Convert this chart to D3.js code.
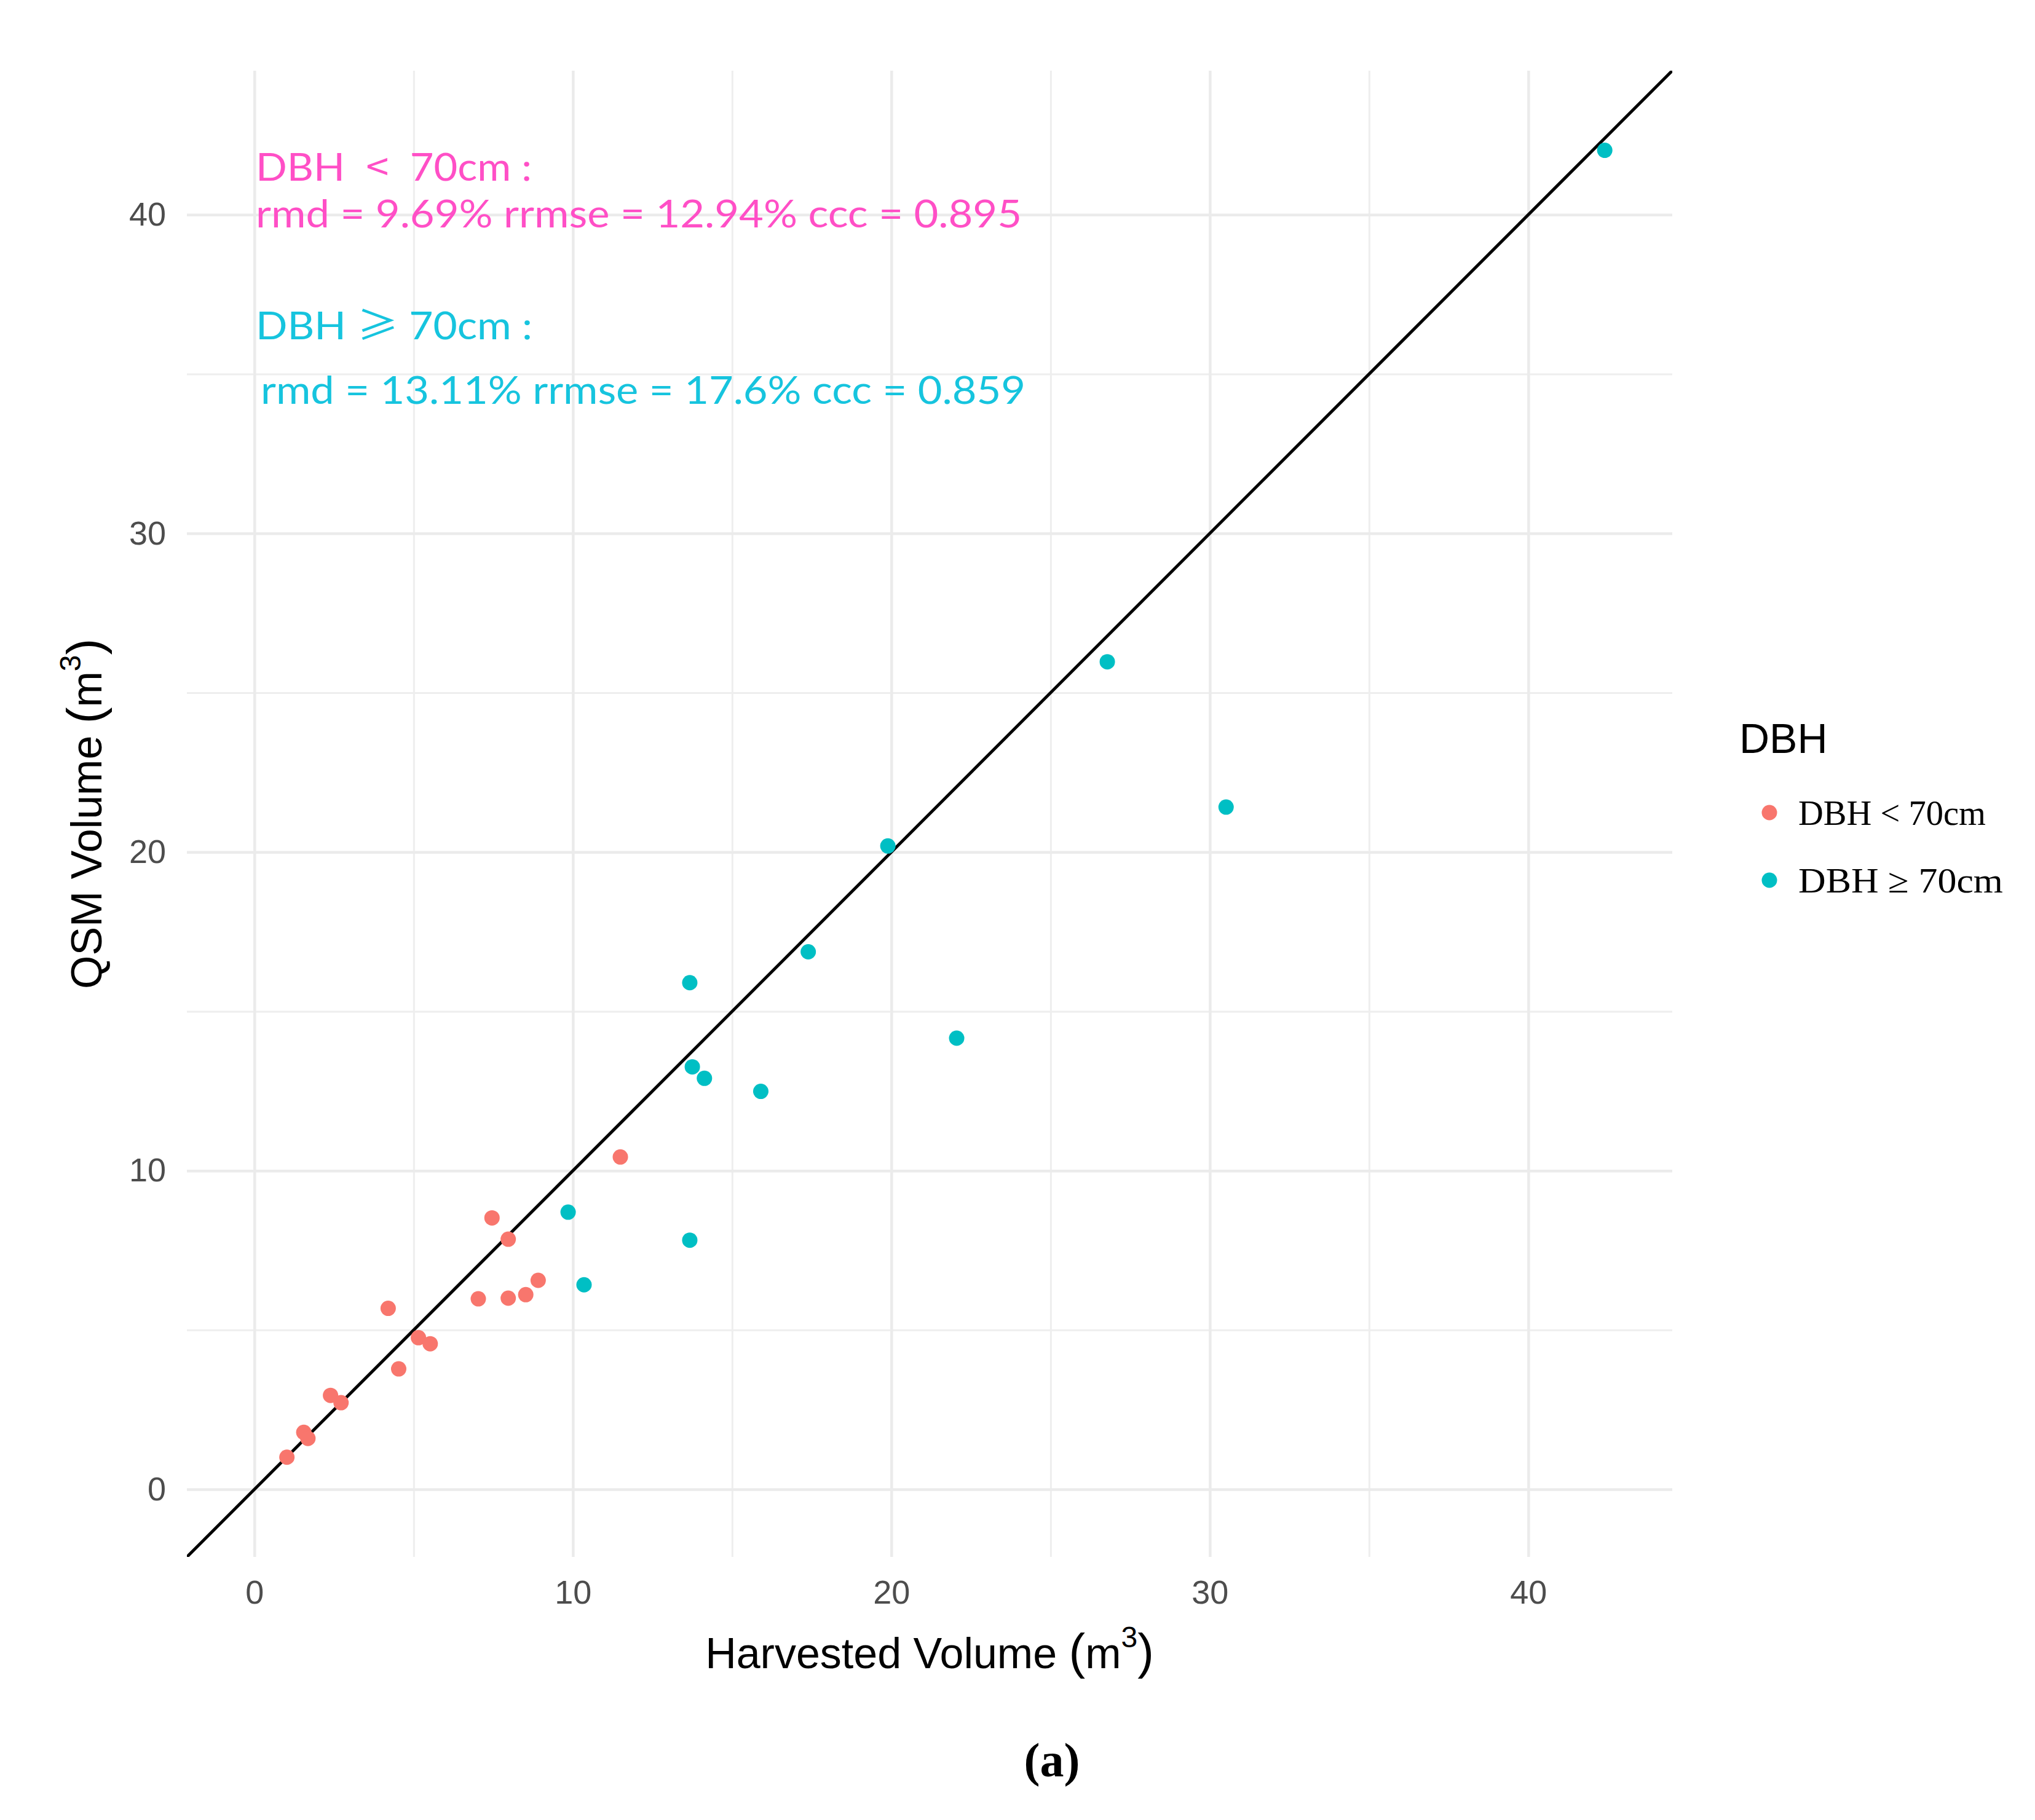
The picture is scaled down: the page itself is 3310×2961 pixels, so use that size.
<!DOCTYPE html>
<html>
<head>
<meta charset="utf-8">
<script src="https://cdn.jsdelivr.net/npm/d3@7"></script>
<style>
  html, body { margin: 0; padding: 0; background: #fff; }
</style>
</head>
<body>
<div id="chart"></div>
<script>
// values (m^3)
var smallHarvested = [1.02, 1.55, 1.68, 2.39, 2.72, 4.20, 4.53, 5.15, 5.52, 7.03, 7.97, 8.52, 8.91, 7.97, 7.46, 11.49];
var smallQsm       = [1.01, 1.79, 1.60, 2.95, 2.72, 5.68, 3.78, 4.76, 4.57, 5.98, 6.00, 6.11, 6.56, 7.85, 8.52, 10.43];
var largeHarvested = [9.85, 10.35, 13.67, 13.67, 13.75, 14.13, 15.90, 17.39, 22.05, 19.89, 26.78, 30.51, 42.40];
var largeQsm       = [8.70, 6.42, 7.82, 15.90, 13.26, 12.90, 12.49, 16.87, 14.16, 20.19, 25.97, 21.41, 42.02];

var groups = ["DBH < 70cm", "DBH \u2265 70cm"];
var groupColors = ["#F8766D", "#00BFC4"];
var majorTicks = [0, 10, 20, 30, 40];
var minorTicks = [5, 15, 25, 35];
var statLines = [
  ["DBH  ", "<", "  70cm :"],
  ["rmd = 9.69% rrmse = 12.94% ccc = 0.895"],
  ["DBH ", "\u2265", " 70cm :"],
  ["rmd = 13.11% rrmse = 17.6% ccc = 0.859"]
];

var W = 3310, H = 2961;
var panel = {left: 304, right: 2720, top: 115, bottom: 2533};
var domain = [-2.12, 44.52];

var svg = d3.select("#chart").append("svg")
  .attr("width", W).attr("height", H)
  .style("font-family", "'Liberation Sans', Arial, sans-serif");

svg.append("rect").attr("width", W).attr("height", H).attr("fill", "#fff");

var x = d3.scaleLinear().domain(domain).range([panel.left, panel.right]);
var y = d3.scaleLinear().domain(domain).range([panel.bottom, panel.top]);
var pw = panel.right - panel.left, ph = panel.bottom - panel.top;

// grid lines, minor first then major
function grid(ticks, width, color) {
  svg.append("g")
    .attr("transform", "translate(0," + panel.bottom + ")")
    .call(d3.axisBottom(x).tickValues(ticks).tickSize(-ph).tickFormat(""))
    .call(function(g) {
      g.select(".domain").remove();
      g.selectAll("line").attr("stroke", color).attr("stroke-width", width);
    });
  svg.append("g")
    .attr("transform", "translate(" + panel.left + ",0)")
    .call(d3.axisLeft(y).tickValues(ticks).tickSize(-pw).tickFormat(""))
    .call(function(g) {
      g.select(".domain").remove();
      g.selectAll("line").attr("stroke", color).attr("stroke-width", width);
    });
}
grid(minorTicks, 3, "#EEEEEE");
grid(majorTicks, 4.5, "#EBEBEB");

// tick labels
svg.append("g")
  .attr("transform", "translate(0," + panel.bottom + ")")
  .call(d3.axisBottom(x).tickValues(majorTicks).tickSize(0).tickPadding(38).tickFormat(d3.format("d")))
  .call(function(g) {
    g.select(".domain").remove();
    g.selectAll("text").attr("font-size", 54).attr("fill", "#4D4D4D")
      .attr("font-family", "'Liberation Sans', Arial, sans-serif");
  });
svg.append("g")
  .attr("transform", "translate(" + panel.left + ",0)")
  .call(d3.axisLeft(y).tickValues(majorTicks).tickSize(0).tickPadding(34).tickFormat(d3.format("d")))
  .call(function(g) {
    g.select(".domain").remove();
    g.selectAll("text").attr("font-size", 54).attr("fill", "#4D4D4D")
      .attr("font-family", "'Liberation Sans', Arial, sans-serif");
  });

// clip for the 1:1 line
svg.append("clipPath").attr("id", "panelClip")
  .append("rect").attr("x", panel.left).attr("y", panel.top).attr("width", pw).attr("height", ph);

svg.append("line")
  .attr("clip-path", "url(#panelClip)")
  .attr("x1", x(domain[0])).attr("y1", y(domain[0]))
  .attr("x2", x(domain[1])).attr("y2", y(domain[1]))
  .attr("stroke", "#000").attr("stroke-width", 5);

// points
var pts = [];
smallHarvested.forEach(function(v, i) { pts.push({h: v, q: smallQsm[i], g: 0}); });
largeHarvested.forEach(function(v, i) { pts.push({h: v, q: largeQsm[i], g: 1}); });

svg.append("g").selectAll("circle")
  .data(pts)
  .enter().append("circle")
  .attr("cx", function(d) { return x(d.h); })
  .attr("cy", function(d) { return y(d.q); })
  .attr("r", 12.5)
  .attr("fill", function(d) { return groupColors[d.g]; });

// stats annotation
var statPos = [
  {x: 416, y: 294, len: 449, color: "#FF4FC6"},
  {x: 416, y: 370, len: 1246, color: "#FF4FC6"},
  {x: 416, y: 552, len: 450, color: "#16C4DE"},
  {x: 424, y: 657, len: 1244, color: "#16C4DE"}
];
var stat = svg.append("g").selectAll("text")
  .data(statLines)
  .enter().append("text")
  .attr("x", function(d, i) { return statPos[i].x; })
  .attr("y", function(d, i) { return statPos[i].y; })
  .attr("textLength", function(d, i) { return statPos[i].len; })
  .attr("lengthAdjust", "spacingAndGlyphs")
  .attr("fill", function(d, i) { return statPos[i].color; })
  .attr("font-size", 62)
  .attr("font-family", "Lato, 'Liberation Sans', sans-serif")
  .style("white-space", "pre");
stat.selectAll("tspan")
  .data(function(d) { return d; })
  .enter().append("tspan")
  .attr("font-family", function(d, i) { return i === 1 ? "'Noto Sans CJK SC', sans-serif" : null; })
  .text(function(d) { return d; });

// axis titles
var xt = svg.append("text")
  .attr("x", (panel.left + panel.right) / 2).attr("y", 2714)
  .attr("text-anchor", "middle").attr("font-size", 70).attr("fill", "#000");
xt.append("tspan").text("Harvested Volume ");
xt.append("tspan").attr("font-size", 80).text("(");
xt.append("tspan").text("m");
xt.append("tspan").attr("font-size", 48).attr("dy", -34).text("3");
xt.append("tspan").attr("font-size", 80).attr("dy", 34).text(")");

var yt = svg.append("text")
  .attr("transform", "translate(165," + (panel.top + panel.bottom) / 2 + ") rotate(-90)")
  .attr("text-anchor", "middle").attr("font-size", 70).attr("fill", "#000");
yt.append("tspan").text("QSM Volume ");
yt.append("tspan").attr("font-size", 80).text("(");
yt.append("tspan").text("m");
yt.append("tspan").attr("font-size", 48).attr("dy", -34).text("3");
yt.append("tspan").attr("font-size", 80).attr("dy", 34).text(")");

// legend
svg.append("text").attr("x", 2829).attr("y", 1225)
  .attr("font-size", 68).attr("fill", "#000").text("DBH");

var leg = svg.append("g").selectAll("g")
  .data(groups)
  .enter().append("g")
  .attr("transform", function(d, i) { return "translate(2878," + (1322 + i * 110) + ")"; });
leg.append("circle").attr("r", 12.5).attr("fill", function(d, i) { return groupColors[i]; });
leg.append("text")
  .attr("x", 47).attr("y", 20)
  .attr("font-size", 56)
  .attr("font-family", "'Liberation Serif', 'Times New Roman', serif")
  .attr("textLength", function(d, i) { return i === 0 ? 305 : 333; })
  .attr("lengthAdjust", "spacingAndGlyphs")
  .attr("fill", "#000")
  .text(function(d) { return d; });

// panel label
svg.append("text").attr("x", 1711).attr("y", 2890)
  .attr("text-anchor", "middle").attr("font-size", 78).attr("font-weight", "bold")
  .attr("font-family", "'Liberation Serif', 'Times New Roman', serif")
  .attr("fill", "#000").text("(a)");
</script>
</body>
</html>
